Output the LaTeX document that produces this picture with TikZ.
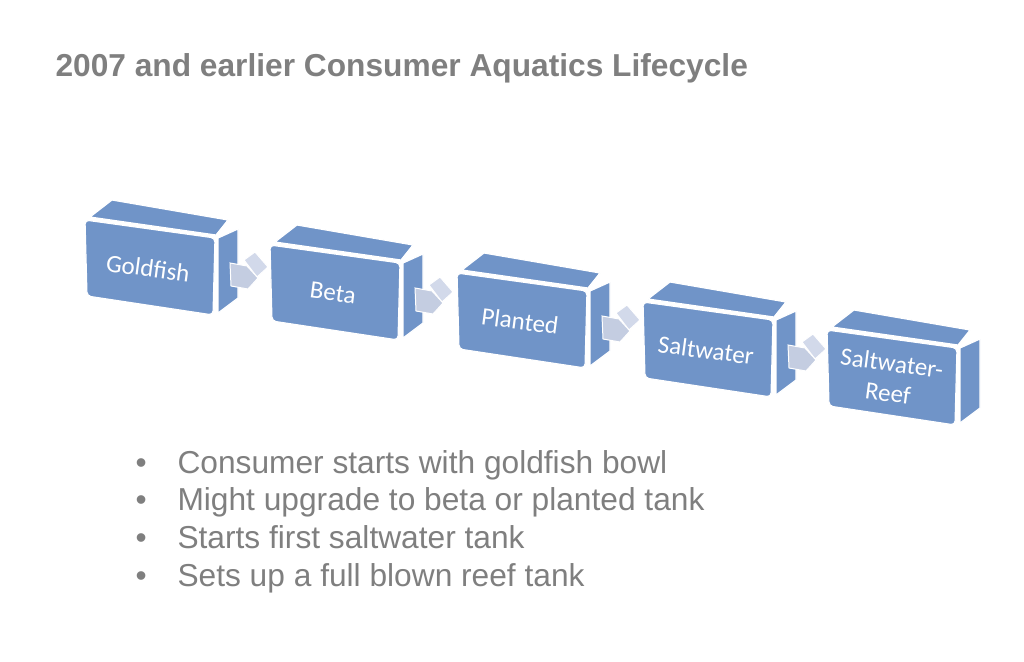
\documentclass[tikz,border=0pt]{standalone}
\usepackage{fontspec}
\setmainfont{Liberation Sans}
\newfontfamily\boxfont{Carlito}
\usepackage{xcolor}
\definecolor{tank-blue}{HTML}{7094C8}
\definecolor{arrow-pale}{HTML}{C4CDE1}
\definecolor{arrow-light}{HTML}{D2D9EA}
\definecolor{slide-gray}{HTML}{7F7F7F}

\begin{document}
\begin{tikzpicture}[x=1pt, y=-1pt,
        tankface/.style={fill=tank-blue, draw=white, line width=1.2pt},
        tanklabel/.style={font=\boxfont\fontsize{25}{30}\selectfont, text=white,
                          align=center, rotate=-7.5},
        bulletline/.style={anchor=base west, text=slide-gray,
                           font=\fontsize{31.7}{37}\selectfont}]
      \useasboundingbox (0,0) rectangle (1024,661);
      \node[anchor=base west, text=slide-gray,
            font=\bfseries\fontsize{31.7}{37}\selectfont] (title) at (52,76)
            {2007 and earlier Consumer Aquatics Lifecycle};
      % tanks
      \foreach \tx/\ty/\name/\lbl in {85/220/goldfish/Goldfish, 270/245/beta/Beta,
          457/273/planted/Planted, 643/302/salt/Saltwater,
          827/330/reef/{Saltwater-\\Reef}} {
        \begin{scope}[shift={(\tx,\ty)}]
          \fill[tankface] (5,-3) -- (27,-20) -- (143,0) -- (131,15) -- cycle;
          \fill[tankface] (133,18) -- (153,9) -- (153,78) -- (133,93) -- cycle;
          \fill[tankface, rounded corners=4pt] (0,0) -- (130,18) -- (128,95)
                -- (2,76) -- cycle;
          \node[tanklabel] (\name) at (63,48) {\lbl};
        \end{scope}
      }
      % arrows between tanks
      \foreach \tx/\ty in {85/220, 270/245, 457/273, 643/302} {
        \begin{scope}[shift={(\tx,\ty)}]
          \fill[arrow-light, draw=white, line width=1pt] (159,40) -- (170,32)
                -- (183,47) -- (172,57) -- cycle;
          \fill[arrow-pale, draw=white, line width=1pt] (145,43) -- (162,46)
                -- (173,58) -- (163,69) -- (146,66) -- cycle;
        \end{scope}
      }
      % bullets
      \foreach \by/\txt in {473/Consumer starts with goldfish bowl,
          510/Might upgrade to beta or planted tank,
          548/Starts first saltwater tank,
          586/Sets up a full blown reef tank} {
        \node[bulletline] at (132,\by) {\textbullet};
        \node[bulletline] at (174,\by) {\txt};
      }
\end{tikzpicture}
\end{document}
